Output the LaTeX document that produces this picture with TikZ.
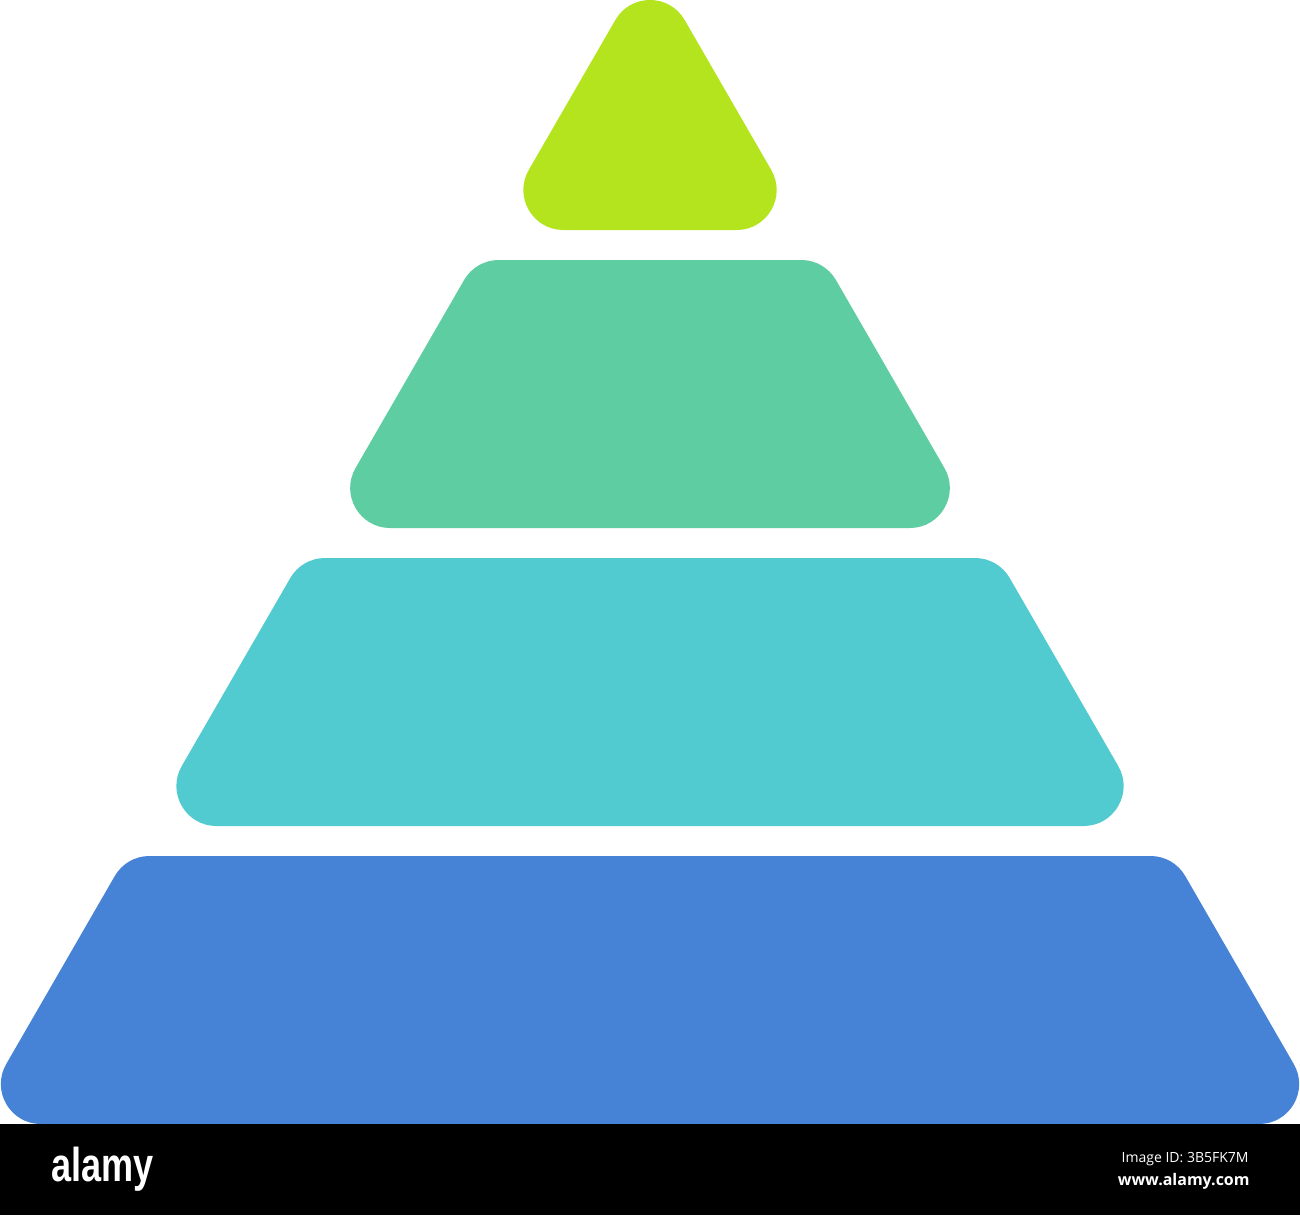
\documentclass[tikz,border=0pt]{standalone}
\usepackage{fontspec}
\setmainfont{Liberation Sans}
\newfontfamily\barfont{Open Sans}
\usepackage{graphicx}
\definecolor{layerA}{HTML}{B3E41E}
\definecolor{layerB}{HTML}{5FCDA2}
\definecolor{layerC}{HTML}{52CBD0}
\definecolor{layerD}{HTML}{4682D6}
% #1 apex y, #2 top y, #3 bottom y, #4 colour  (image pixel coordinates, y downward)
\newcommand\pyrlayer[4]{%
  \pgfmathsetmacro\lTL{650-0.57735*(#2-(#1))}%
  \pgfmathsetmacro\lBL{650-0.57735*(#3-(#1))}%
  \pgfmathsetmacro\lTR{1300-\lTL}%
  \pgfmathsetmacro\lBR{1300-\lBL}%
  \fill[#4] (\lTL-11.55,#2+20) .. controls (\lTL-4.40,#2+7.62) and (\lTL+8.80,#2) .. (\lTL+23.09,#2)
    -- (\lTR-23.09,#2) .. controls (\lTR-8.80,#2) and (\lTR+4.40,#2+7.62) .. (\lTR+11.55,#2+20)
    -- (\lBR-34.64,#3-60) .. controls (\lBR-19.25,#3-33.33) and (\lBR-38.49,#3) .. (\lBR-69.28,#3)
    -- (\lBL+69.28,#3) .. controls (\lBL+38.49,#3) and (\lBL+19.25,#3-33.33) .. (\lBL+34.64,#3-60)
    -- cycle;%
}
\begin{document}
\begin{tikzpicture}[x=0.5pt,y=-0.5pt,
  bartext/.style={text=white,inner sep=0pt}]
\useasboundingbox (0,0) rectangle (1300,1215);
\fill[white] (0,0) rectangle (1300,1215);
% top triangle
\fill[layerA] (615.36,20) .. controls (630.75,-6.67) and (669.25,-6.67) .. (684.64,20)
  -- (771.26,170) .. controls (786.65,196.67) and (767.41,230) .. (736.62,230)
  -- (563.38,230) .. controls (532.59,230) and (513.35,196.67) .. (528.74,170) -- cycle;
\pyrlayer{-42}{260}{528}{layerB}
\pyrlayer{-45}{558}{826}{layerC}
\pyrlayer{-51}{856}{1124}{layerD}
% bottom bar
\fill[black] (0,1124) rectangle (1300,1215);
\node[bartext,anchor=base west] (logo) at (51,1181)
  {\scalebox{0.82}[1.08]{\fontsize{22}{22}\selectfont\bfseries alamy}};
\node[bartext,anchor=base east] (imgid) at (1249,1162)
  {\barfont\fontsize{7}{8}\selectfont Image ID: 3B5FK7M};
\node[bartext,anchor=base east] (www) at (1250,1185)
  {\barfont\fontsize{8}{9}\selectfont\bfseries www.alamy.com};
\end{tikzpicture}
\end{document}
